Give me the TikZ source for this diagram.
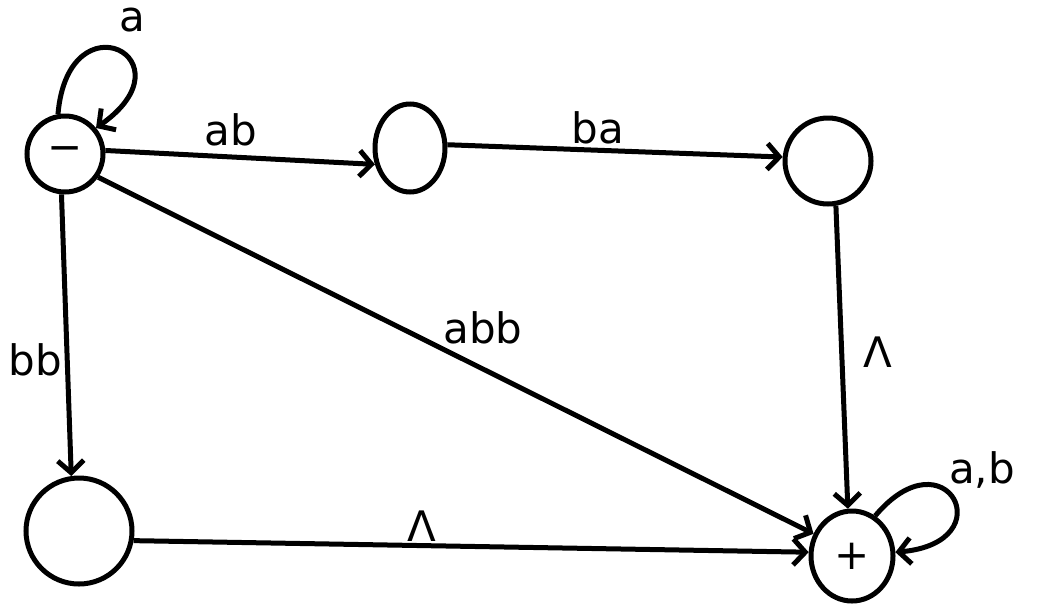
\documentclass[tikz,border=0pt]{standalone}
\usepackage{fontspec}
\setmainfont{DejaVu Sans}
\usetikzlibrary{arrows.meta,shapes.geometric}
\begin{document}
\begin{tikzpicture}[x=1pt,y=-1pt,
  st/.style={draw,circle,line width=5pt,inner sep=0pt},
  ed/.style={line width=5pt,-{Straight Barb[length=12pt,width=26pt,line width=5pt]}},
  lb/.style={font=\fontsize{42}{46}\selectfont,inner sep=0pt}]
\useasboundingbox (0,0) rectangle (1040,611);
\node[st,minimum size=76pt] (s) at (65,154) {\fontsize{42}{46}\selectfont −};
\node[st,ellipse,minimum width=70pt,minimum height=88pt] (q1) at (410,148) {};
\node[st,minimum size=86pt] (q2) at (828,161) {};
\node[st,minimum size=106pt] (q3) at (79,531) {};
\node[st,ellipse,minimum width=82pt,minimum height=90pt] (f) at (852,556) {\fontsize{42}{46}\selectfont +};
\draw[ed] (s.5) -- (q1.205);
\draw[ed] (q1.5) -- (q2.175);
\draw[ed] (q2.-80) -- (f.95);
\draw[ed] (s.-95) -- (q3.98);
\draw[ed] (s.-35) -- (f.150);
\draw[ed] (q3.-10) -- (f.175);
\draw[ed] (s.100) .. controls +(-85:120) and +(-35:120) .. (s.40);
\draw[ed] (f.60) .. controls +(-50:110) and +(-5:110) .. (f.5);
\node[lb] (la) at (132,20) {a};
\node[lb] (lab) at (231,130) {ab};
\node[lb] (lba) at (598,128) {ba};
\node[lb] (labb) at (483,328) {abb};
\node[lb] (lbb) at (35,360) {bb};
\node[lb] (ll1) at (878,352) {Λ};
\node[lb] (ll2) at (422,526) {Λ};
\node[lb] (lab2) at (982,470) {a,b};
\end{tikzpicture}
\end{document}
